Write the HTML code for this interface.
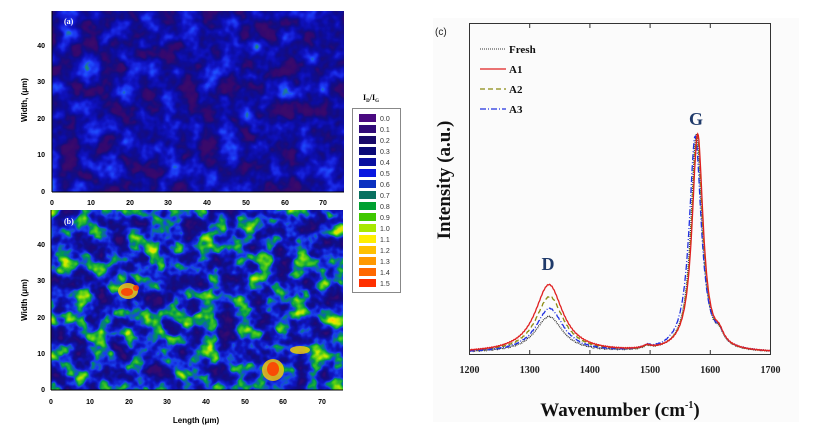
<!DOCTYPE html>
<html><head><meta charset="utf-8"><style>
body{margin:0;background:#fff;width:818px;height:439px;overflow:hidden;font-family:"Liberation Sans",sans-serif}
svg{position:absolute;left:0;top:0}
</style></head><body>
<svg width="818" height="439" viewBox="0 0 818 439" xmlns="http://www.w3.org/2000/svg">
<defs>
<filter id="fa" filterUnits="userSpaceOnUse" x="52" y="11" width="292" height="181" color-interpolation-filters="sRGB">
<feTurbulence type="fractalNoise" baseFrequency="0.05" numOctaves="3" seed="4"/>
<feColorMatrix type="matrix" values="1 0 0 0 0 1 0 0 0 0 1 0 0 0 0 0 0 0 0 1"/>
<feComponentTransfer>
<feFuncR type="table" tableValues="0.23 0.23 0.23 0.2 0.08 0.05 0.06 0.1 0.12 0.12 0.38"/>
<feFuncG type="table" tableValues="0.04 0.04 0.04 0.03 0.05 0.05 0.07 0.16 0.31 0.63 0.82"/>
<feFuncB type="table" tableValues="0.42 0.42 0.42 0.44 0.5 0.62 0.75 0.9 1.0 0.25 0.12"/>
</feComponentTransfer>
</filter>
<filter id="fb" filterUnits="userSpaceOnUse" x="51" y="210" width="292" height="180" color-interpolation-filters="sRGB">
<feTurbulence type="fractalNoise" baseFrequency="0.055" numOctaves="3" seed="11"/>
<feColorMatrix type="matrix" values="1 0 0 0 0 1 0 0 0 0 1 0 0 0 0 0 0 0 0 1"/>
<feComponentTransfer>
<feFuncR type="table" tableValues="0.23 0.23 0.2 0.1 0.06 0.06 0.1 0.0 0.3 0.8 1.0 1.0"/>
<feFuncG type="table" tableValues="0.04 0.04 0.04 0.04 0.06 0.08 0.25 0.6 0.8 0.92 0.85 0.3"/>
<feFuncB type="table" tableValues="0.42 0.42 0.45 0.48 0.55 0.75 0.94 0.3 0.1 0.0 0.0 0.0"/>
</feComponentTransfer>
</filter>
</defs>
<rect x="52" y="11" width="292" height="181" fill="#10108a" filter="url(#fa)"/>
<rect x="51" y="210" width="292" height="180" fill="#10108a" filter="url(#fb)"/>
<g fill="#ffd000" opacity="0.8"><ellipse cx="128" cy="291" rx="10" ry="8"/><ellipse cx="273" cy="370" rx="11" ry="11"/><ellipse cx="300" cy="350" rx="10" ry="4"/></g>
<g fill="#ff3a00" opacity="0.85">
<ellipse cx="127" cy="292" rx="6" ry="4"/><ellipse cx="136" cy="288" rx="3" ry="3"/>
<ellipse cx="273" cy="369" rx="6" ry="7"/>
</g>
<text x="64" y="24" font-family="Liberation Serif" font-weight="bold" font-size="8" fill="#fff">(a)</text>
<text x="64" y="224" font-family="Liberation Serif" font-weight="bold" font-size="8" fill="#fff">(b)</text>
<g font-family="Liberation Sans" font-size="7" fill="#000" font-weight="bold">
<line x1="52" y1="11" x2="52" y2="192" stroke="#000"/>
<line x1="52" y1="192" x2="344" y2="192" stroke="#000"/>
<g text-anchor="middle">
<text x="52" y="205">0</text><text x="91" y="205">10</text><text x="130" y="205">20</text><text x="168" y="205">30</text><text x="207" y="205">40</text><text x="246" y="205">50</text><text x="285" y="205">60</text><text x="323" y="205">70</text>
<text x="51" y="404">0</text><text x="90" y="404">10</text><text x="129" y="404">20</text><text x="167" y="404">30</text><text x="206" y="404">40</text><text x="245" y="404">50</text><text x="283" y="404">60</text><text x="322" y="404">70</text>
</g>
<g text-anchor="end">
<text x="45" y="194">0</text><text x="45" y="157">10</text><text x="45" y="121">20</text><text x="45" y="84">30</text><text x="45" y="48">40</text>
<text x="45" y="392">0</text><text x="45" y="356">10</text><text x="45" y="320">20</text><text x="45" y="283">30</text><text x="45" y="247">40</text>
</g>
<line x1="51" y1="210" x2="51" y2="390" stroke="#000"/>
<line x1="51" y1="390" x2="343" y2="390" stroke="#000"/>
</g>
<text transform="translate(27,100) rotate(-90)" text-anchor="middle" font-size="8" font-weight="bold">Width, (μm)</text>
<text transform="translate(27,300) rotate(-90)" text-anchor="middle" font-size="8" font-weight="bold">Width (μm)</text>
<text x="196" y="423" text-anchor="middle" font-size="8" font-weight="bold">Length (μm)</text>
<text x="363" y="100" font-family="Liberation Serif" font-size="8" font-weight="bold">I<tspan font-size="5" dy="2">D</tspan><tspan dy="-2">/I</tspan><tspan font-size="5" dy="2">G</tspan></text>
<rect x="352.5" y="108.5" width="48" height="184" fill="#fff" stroke="#888"/>
<g font-size="7" fill="#333">
<rect x="359" y="114" width="17" height="8" fill="#4a0a80"/><text x="380" y="121">0.0</text>
<rect x="359" y="125" width="17" height="8" fill="#300a78"/><text x="380" y="132">0.1</text>
<rect x="359" y="136" width="17" height="8" fill="#180a6a"/><text x="380" y="143">0.2</text>
<rect x="359" y="147" width="17" height="8" fill="#0a0a78"/><text x="380" y="154">0.3</text>
<rect x="359" y="158" width="17" height="8" fill="#0a10a0"/><text x="380" y="165">0.4</text>
<rect x="359" y="169" width="17" height="8" fill="#0a18e0"/><text x="380" y="176">0.5</text>
<rect x="359" y="180" width="17" height="8" fill="#0a30c0"/><text x="380" y="187">0.6</text>
<rect x="359" y="191" width="17" height="8" fill="#087060"/><text x="380" y="198">0.7</text>
<rect x="359" y="202" width="17" height="8" fill="#00a030"/><text x="380" y="209">0.8</text>
<rect x="359" y="213" width="17" height="8" fill="#40c800"/><text x="380" y="220">0.9</text>
<rect x="359" y="224" width="17" height="8" fill="#a8e800"/><text x="380" y="231">1.0</text>
<rect x="359" y="235" width="17" height="8" fill="#ffee00"/><text x="380" y="242">1.1</text>
<rect x="359" y="246" width="17" height="8" fill="#ffc000"/><text x="380" y="253">1.2</text>
<rect x="359" y="257" width="17" height="8" fill="#ff9800"/><text x="380" y="264">1.3</text>
<rect x="359" y="268" width="17" height="8" fill="#ff6800"/><text x="380" y="275">1.4</text>
<rect x="359" y="279" width="17" height="8" fill="#ff3000"/><text x="380" y="286">1.5</text>
</g>
<rect x="433" y="18" width="366" height="404" fill="#fbfbfb"/>
<text x="435" y="35" font-size="10" fill="#222">(c)</text>
<g id="curves" fill="none" stroke-width="1.3"></g>
<rect x="469.5" y="23.5" width="301" height="331" fill="none" stroke="#333" stroke-width="1"/>
<g stroke="#333">
<line x1="529.7" y1="24" x2="529.7" y2="28"/><line x1="589.9" y1="24" x2="589.9" y2="28"/><line x1="650.1" y1="24" x2="650.1" y2="28"/><line x1="710.3" y1="24" x2="710.3" y2="28"/>
<line x1="529.7" y1="354" x2="529.7" y2="350"/><line x1="589.9" y1="354" x2="589.9" y2="350"/><line x1="650.1" y1="354" x2="650.1" y2="350"/><line x1="710.3" y1="354" x2="710.3" y2="350"/>
</g>
<g font-family="Liberation Serif" font-weight="bold" font-size="10" text-anchor="middle" fill="#222">
<text x="469.5" y="373">1200</text><text x="529.7" y="373">1300</text><text x="589.9" y="373">1400</text><text x="650.1" y="373">1500</text><text x="710.3" y="373">1600</text><text x="770.5" y="373">1700</text>
</g>
<text x="620" y="416" text-anchor="middle" font-family="Liberation Serif" font-weight="bold" font-size="19" fill="#111">Wavenumber (cm<tspan font-size="10" dy="-8">-1</tspan><tspan dy="8">)</tspan></text>
<text transform="translate(450,180) rotate(-90)" text-anchor="middle" font-family="Liberation Serif" font-weight="bold" font-size="19" fill="#111">Intensity (a.u.)</text>
<text x="548" y="270" text-anchor="middle" font-family="Liberation Serif" font-weight="bold" font-size="18" fill="#1f3a6a">D</text>
<text x="696" y="125" text-anchor="middle" font-family="Liberation Serif" font-weight="bold" font-size="18" fill="#1f3a6a">G</text>
<g font-family="Liberation Serif" font-weight="bold" font-size="11" fill="#111">
<line x1="480" y1="49" x2="506" y2="49" stroke="#333" stroke-dasharray="1,1"/><text x="509" y="53">Fresh</text>
<line x1="480" y1="69" x2="506" y2="69" stroke="#e02020" stroke-width="1.3"/><text x="509" y="73">A1</text>
<line x1="480" y1="89" x2="506" y2="89" stroke="#8a8a10" stroke-width="1.3" stroke-dasharray="5,3"/><text x="509" y="93">A2</text>
<line x1="480" y1="109" x2="506" y2="109" stroke="#2030e0" stroke-width="1.3" stroke-dasharray="6,2,1,2"/><text x="509" y="113">A3</text>
</g>
</svg>
<script>
(function(){
var g=document.getElementById('curves');
function L(x,c,w){var d=(x-c)/w;return 1/(1+d*d);}
var S=[
 {c:'#333',dash:'1,1',d:36,dc:1332,g:218,gc:1577,gw:11},
 {c:'#8a8a10',dash:'5,3',d:56,dc:1333,g:218,gc:1578,gw:11},
 {c:'#2030e0',dash:'6,2,1,2',d:44,dc:1333,g:216,gc:1575,gw:12},
 {c:'#e02020',dash:'',d:68,dc:1332,g:218,gc:1579,gw:11}
];
S.forEach(function(s){
 var p='';
 for(var x=1200;x<=1700;x+=1){
  var I=s.d*L(x,s.dc,28)+s.g*L(x,s.gc,s.gw)+10*L(x,1615,9)+3*L(x,1495,8)-2;
  if(I<0)I=0;
  var X=469.5+(x-1200)*0.602, Y=351-I+Math.sin(x*1.7)*0.4;
  p+=(x==1200?'M':'L')+X.toFixed(1)+' '+Y.toFixed(1);
 }
 var e=document.createElementNS('http://www.w3.org/2000/svg','path');
 e.setAttribute('d',p);e.setAttribute('stroke',s.c);
 if(s.dash)e.setAttribute('stroke-dasharray',s.dash);
 g.appendChild(e);
});
})();
</script>
</body></html>
